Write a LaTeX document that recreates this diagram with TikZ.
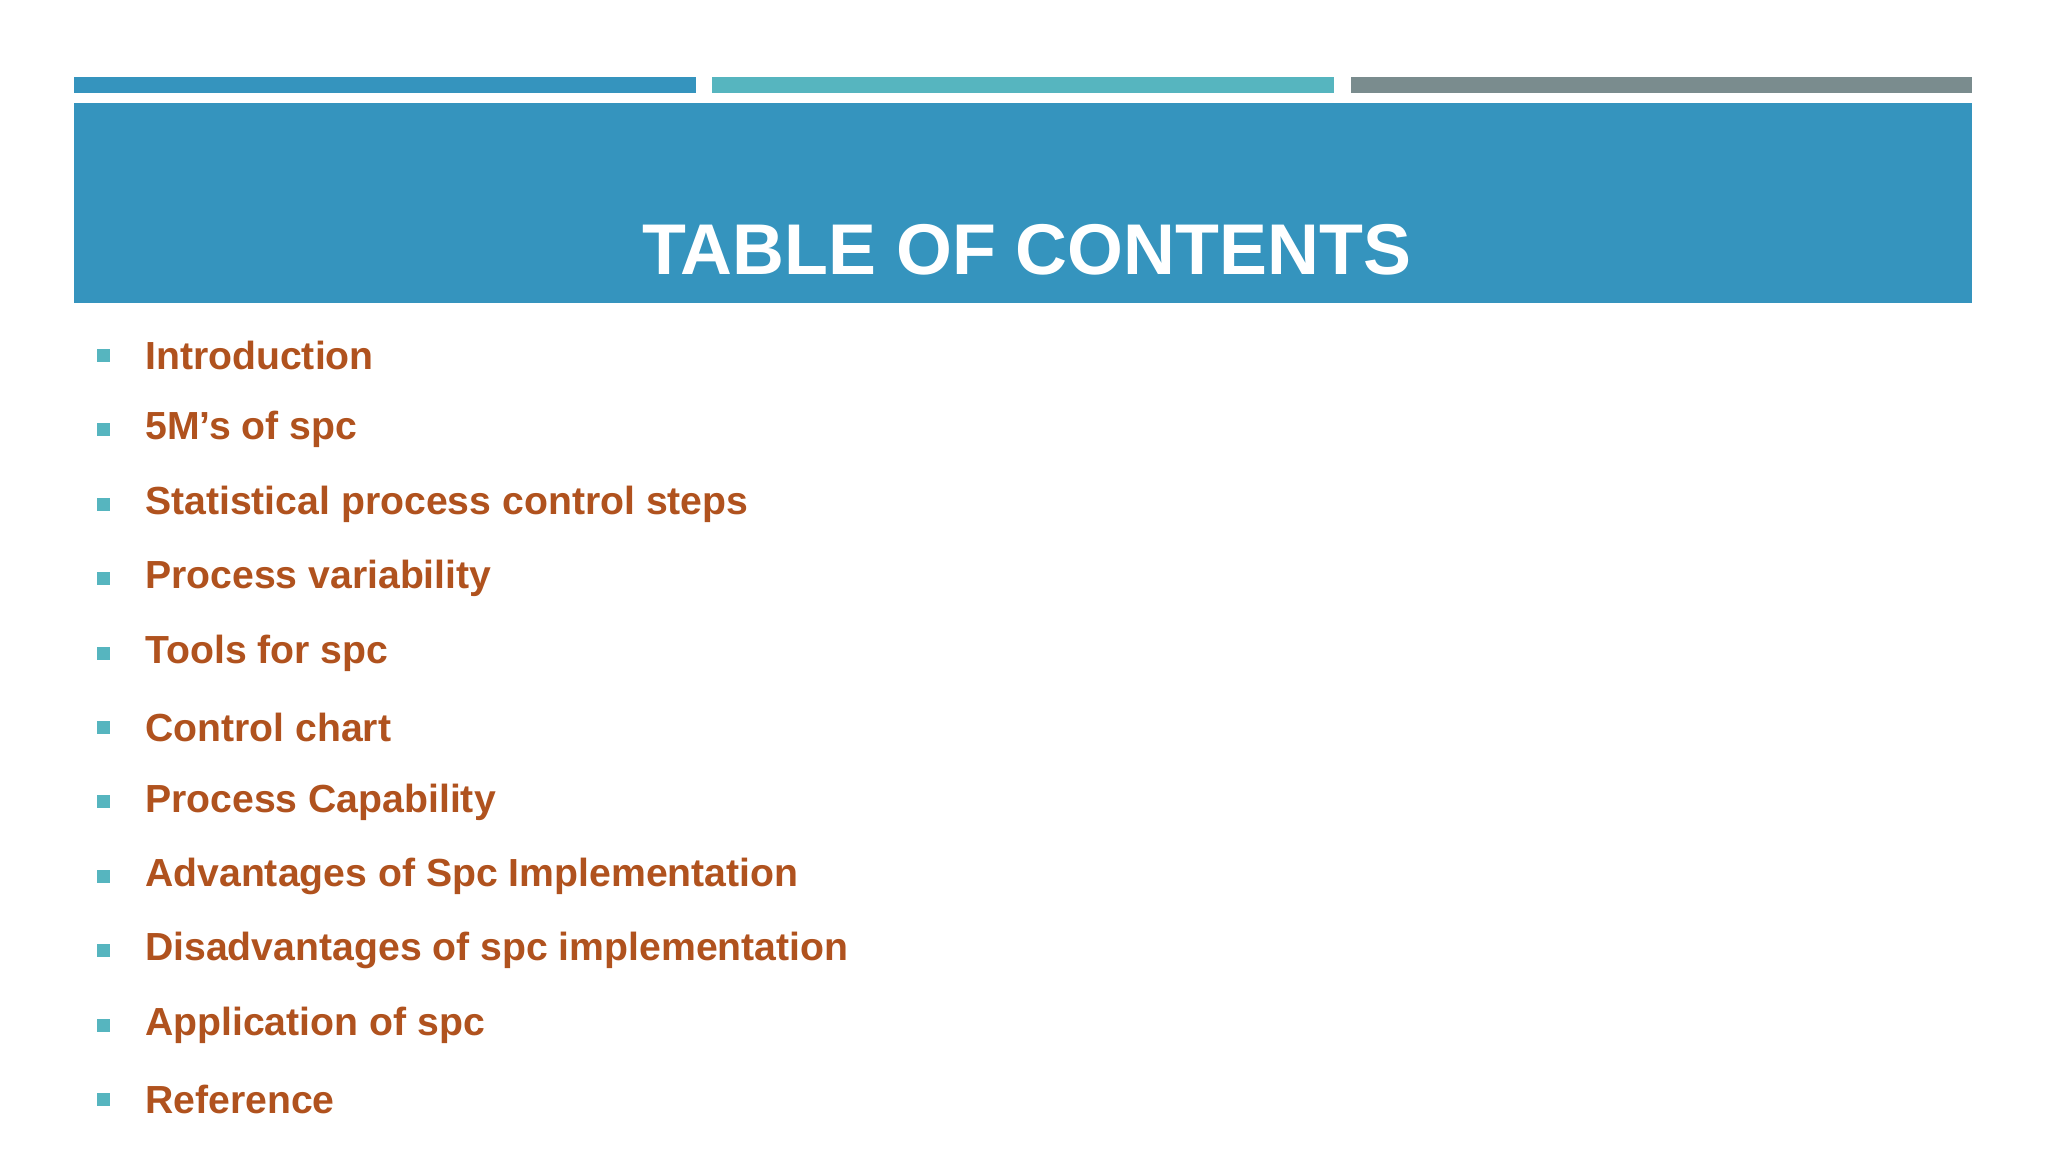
\documentclass[tikz,border=0pt]{standalone}
\usepackage{fontspec}
\setmainfont{Liberation Sans}
\definecolor{cblue}{HTML}{3594BE}
\definecolor{cteal}{HTML}{56B5BF}
\definecolor{cgray}{HTML}{7A8C8E}
\definecolor{cbrown}{HTML}{B0521E}
\tikzset{item/.style={anchor=west,text=cbrown,font=\fontsize{30}{36}\selectfont\bfseries,inner sep=0pt},
bul/.style={fill=cteal,minimum size=10pt,inner sep=0pt}}
\begin{document}
\begin{tikzpicture}[x=1pt,y=-1pt]
\fill[white] (0,0) rectangle (1568,882);
\fill[cblue] (57,59) rectangle (533,71);
\fill[cteal] (545,59) rectangle (1021,71);
\fill[cgray] (1034,59) rectangle (1510,71);
\fill[cblue] (57,79) rectangle (1510,232);
\node[text=white,font=\fontsize{55}{60}\selectfont\bfseries,anchor=base] (title) at (786,210) {TABLE OF CONTENTS};
\foreach \t [count=\i] in {Introduction,5M’s of spc,Statistical process control steps,Process variability,Tools for spc,Control chart,Process Capability,Advantages of Spc Implementation,Disadvantages of spc implementation,Application of spc,Reference}{
  \node[bul] (b\i) at (79,{272+57*(\i-1)}) {};
  \node[item] (t\i) at (111,{272+57*(\i-1)}) {\t};
}
\end{tikzpicture}
\end{document}
